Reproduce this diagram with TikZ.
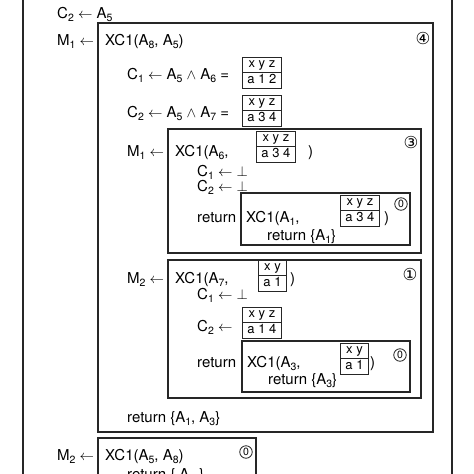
\documentclass[tikz,border=0pt]{standalone}
\usepackage{fontspec}
\setmainfont{TeX Gyre Heros}
\newfontfamily\circfont{DejaVu Sans}
\usetikzlibrary{shapes.multipart}
\newcommand{\sub}[1]{\raisebox{-3.5pt}{\fontsize{10.5}{10}\selectfont #1}}
\newcommand{\la}{$\leftarrow$}
\newcommand{\tbl}[2]{\strut #1\nodepart{two}\strut #2}
\tikzset{
  frame/.style={draw=black!85,line width=1.1pt},
  txt/.style={anchor=base west,inner sep=0pt,font=\fontsize{15}{18}\selectfont},
  tbl/.style={rectangle split,rectangle split parts=2,draw=black!85,line width=0.9pt,
    anchor=west,inner xsep=5pt,inner ysep=1pt,font=\fontsize{13}{12}\selectfont},
  num/.style={inner sep=0pt,font=\fontsize{16.5}{16}\circfont},
  zero/.style={circle,draw=black!85,line width=0.8pt,inner sep=0pt,minimum size=12.5pt,
    font=\fontsize{10.5}{10}\selectfont},
}
\begin{document}
\begin{tikzpicture}[x=1pt,y=-1pt]
 \useasboundingbox (0,0) rectangle (474,474);
 % frames
 \draw[frame] (23,-20) rectangle (452,500);
 \draw[frame] (98,23) rectangle (433,432);
 \draw[frame] (168,129) rectangle (421,253);
 \draw[frame] (241,193) rectangle (410,245);
 \draw[frame] (168,260) rectangle (421,398);
 \draw[frame] (242,341) rectangle (410,392);
 \draw[frame] (98,438) rectangle (256,500);
 % outer level
 \node[txt] (c1) at (57,-4) {C\sub{1} \la{} A\sub{8}};
 \node[txt] (c2) at (57,18) {C\sub{2} \la{} A\sub{5}};
 \node[txt] (m1) at (57,45) {M\sub{1} \la};
 \node[txt] (m2) at (57,460) {M\sub{2} \la};
 % call 4
 \node[txt] (x4) at (105,45) {XC1(A\sub{8}, A\sub{5})};
 \node[num] (n4) at (423,38) {④};
 \node[txt] (c41) at (127,79) {C\sub{1} \la{} A\sub{5} $\wedge$ A\sub{6} =};
 \node[tbl] (t41) at (242,73) {\tbl{x y z}{a 1 2}};
 \node[txt] (c42) at (127,117) {C\sub{2} \la{} A\sub{5} $\wedge$ A\sub{7} =};
 \node[tbl] (t42) at (242,111) {\tbl{x y z}{a 3 4}};
 \node[txt] (m41) at (127,156) {M\sub{1} \la};
 \node[txt] (m42) at (127,283) {M\sub{2} \la};
 \node[txt] (r4) at (127,422) {return \{A\sub{1}, A\sub{3}\}};
 % call 3
 \node[txt] (x3) at (175,156) {XC1(A\sub{6},};
 \node[tbl] (t3) at (256,147) {\tbl{x y z}{a 3 4}};
 \node[txt] (p3) at (308,156) {)};
 \node[num] (n3) at (411,142) {③};
 \node[txt] (c31) at (197,176) {C\sub{1} \la{} $\bot$};
 \node[txt] (c32) at (197,191) {C\sub{2} \la{} $\bot$};
 \node[txt] (r3) at (197,222) {return};
 \node[txt] (x31) at (246,222) {XC1(A\sub{1},};
 \node[tbl] (t31) at (340,211) {\tbl{x y z}{a 3 4}};
 \node[txt] (p31) at (384,222) {)};
 \node[zero] (n31) at (401,204) {0};
 \node[txt] (r31) at (267,240) {return \{A\sub{1}\}};
 % call 1
 \node[txt] (x1) at (175,283) {XC1(A\sub{7},};
 \node[tbl] (t1) at (258,276) {\tbl{x y}{a 1}};
 \node[txt] (p1) at (290,283) {)};
 \node[num] (n1) at (410,274) {①};
 \node[txt] (c11) at (197,299) {C\sub{1} \la{} $\bot$};
 \node[txt] (c12) at (197,331) {C\sub{2} \la};
 \node[tbl] (t12) at (242,323) {\tbl{x y z}{a 1 4}};
 \node[txt] (r1) at (197,367) {return};
 \node[txt] (x11) at (247,367) {XC1(A\sub{3},};
 \node[tbl] (t11) at (340,359) {\tbl{x y}{a 1}};
 \node[txt] (p11) at (370,367) {)};
 \node[zero] (n11) at (400,355) {0};
 \node[txt] (r11) at (268,384) {return \{A\sub{3}\}};
 % call 0
 \node[txt] (x0) at (105,460) {XC1(A\sub{5}, A\sub{8})};
 \node[zero] (n0) at (246,452) {0};
 \node[txt] (r0) at (127,479) {return \{ A\sub{5} \}};
\end{tikzpicture}
\end{document}
